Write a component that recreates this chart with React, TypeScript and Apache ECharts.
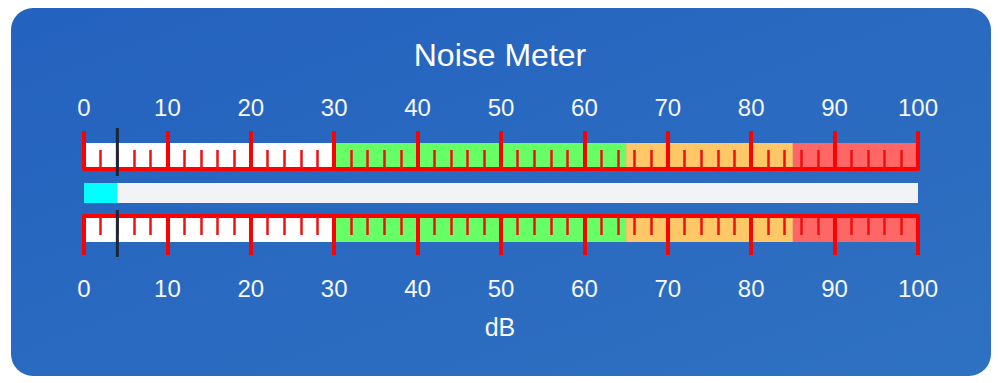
import { useEffect, useRef } from 'react';
import * as echarts from 'echarts';

// ---- data ----
const titleText = 'Noise Meter';
const unitText = 'dB';
const scaleMin = 0;
const scaleMax = 100;
const majorStep = 10;
const minorSplits = 5;
const zoneStarts = [0, 30, 65, 85];
const zoneEnds = [30, 65, 85, 100];
const zoneColors = ['#ffffff', '#66ff66', '#ffc766', '#ff6666'];
const currentValue = 4;

const FONT = "'Liberation Sans', Arial, Helvetica, sans-serif";
const RED = '#ff0000';

export default function App() {
  const ref = useRef<HTMLDivElement>(null);

  useEffect(() => {
    if (!ref.current) return;
    const chart = echarts.init(ref.current, undefined, { renderer: 'svg' });

    const gridLeft = 84;
    const gridRight = 1000 - 918;

    const scaleAxis = (gridIndex: number, position: 'top' | 'bottom', tickLen: number, minorLen: number, labelMargin: number) => ({
      type: 'value',
      gridIndex,
      position,
      min: scaleMin,
      max: scaleMax,
      interval: majorStep,
      z: 10,
      axisLine: { show: true, lineStyle: { color: RED, width: 4 } },
      axisTick: { show: true, inside: true, length: tickLen, lineStyle: { color: RED, width: 4 } },
      minorTick: { show: true, splitNumber: minorSplits, length: minorLen, lineStyle: { color: '#ee1111', width: 2.5 } },
      axisLabel: {
        show: true,
        inside: true,
        margin: labelMargin,
        color: '#f5f7fa',
        fontSize: 24,
        fontFamily: FONT,
        showMinLabel: true,
        showMaxLabel: true,
      },
      splitLine: { show: false },
      minorSplitLine: { show: false },
    });

    const hiddenX = (gridIndex: number) => ({
      type: 'value', gridIndex, min: scaleMin, max: scaleMax, show: false,
    });

    const zoneSeries = (axisIndex: number) =>
      zoneEnds.map((end, i) => ({
        type: 'bar',
        name: `zone${i}-${axisIndex}`,
        xAxisIndex: axisIndex,
        yAxisIndex: axisIndex,
        stack: `zones${axisIndex}`,
        barWidth: '100%',
        data: [end - zoneStarts[i]],
        itemStyle: { color: zoneColors[i] },
        silent: true,
        z: 2,
      }));

    const needleSeries = (axisIndex: number) => ({
      type: 'line',
      xAxisIndex: axisIndex,
      yAxisIndex: axisIndex,
      data: [[currentValue, 0], [currentValue, 1]],
      symbol: 'none',
      lineStyle: { color: '#1b2636', width: 3, cap: 'butt' },
      z: 20,
      silent: true,
    });

    chart.setOption({
      animation: false,
      backgroundColor: 'transparent',
      graphic: [
        {
          type: 'rect',
          z: -10,
          shape: { x: 11, y: 8, width: 980, height: 368, r: 22 },
          style: {
            fill: new echarts.graphic.LinearGradient(0, 0, 1, 1, [
              { offset: 0, color: '#2462bf' },
              { offset: 1, color: '#2f71c1' },
            ]),
          },
        },
      ],
      title: [
        {
          text: titleText,
          left: 'center',
          top: 39,
          textStyle: { color: '#ffffff', fontSize: 32, fontWeight: 'normal', fontFamily: FONT },
          padding: 0,
        },
        {
          text: unitText,
          left: 'center',
          top: 314,
          textStyle: { color: '#f5f7fa', fontSize: 25, fontWeight: 'normal', fontFamily: FONT },
          padding: 0,
        },
      ],
      grid: [
        { left: gridLeft, right: gridRight, top: 143, height: 26 },
        { left: gridLeft, right: gridRight, top: 216, height: 26 },
        { left: gridLeft, right: gridRight, top: 183, height: 20 },
        { left: gridLeft, right: gridRight, top: 128, height: 48 },
        { left: gridLeft, right: gridRight, top: 210, height: 47 },
      ],
      xAxis: [
        scaleAxis(0, 'bottom', 38, 19, 50),
        scaleAxis(1, 'top', 39, 19, 60),
        hiddenX(2),
        hiddenX(3),
        hiddenX(4),
      ],
      yAxis: [
        { type: 'category', gridIndex: 0, data: ['top'], show: false },
        { type: 'category', gridIndex: 1, data: ['bottom'], show: false },
        { type: 'category', gridIndex: 2, data: ['level'], show: false },
        { type: 'value', gridIndex: 3, min: 0, max: 1, show: false },
        { type: 'value', gridIndex: 4, min: 0, max: 1, show: false },
      ],
      series: [
        ...zoneSeries(0),
        ...zoneSeries(1),
        {
          type: 'bar',
          xAxisIndex: 2,
          yAxisIndex: 2,
          barWidth: '100%',
          data: [currentValue],
          itemStyle: { color: '#00ffff' },
          showBackground: true,
          backgroundStyle: { color: '#f2f3f7' },
          silent: true,
        },
        needleSeries(3),
        needleSeries(4),
      ],
    });

    return () => chart.dispose();
  }, []);

  return (
    <div style={{ position: 'fixed', left: 0, top: 0, width: 1000, height: 383, background: '#ffffff' }}>
      <div ref={ref} style={{ width: 1000, height: 383 }} />
    </div>
  );
}
